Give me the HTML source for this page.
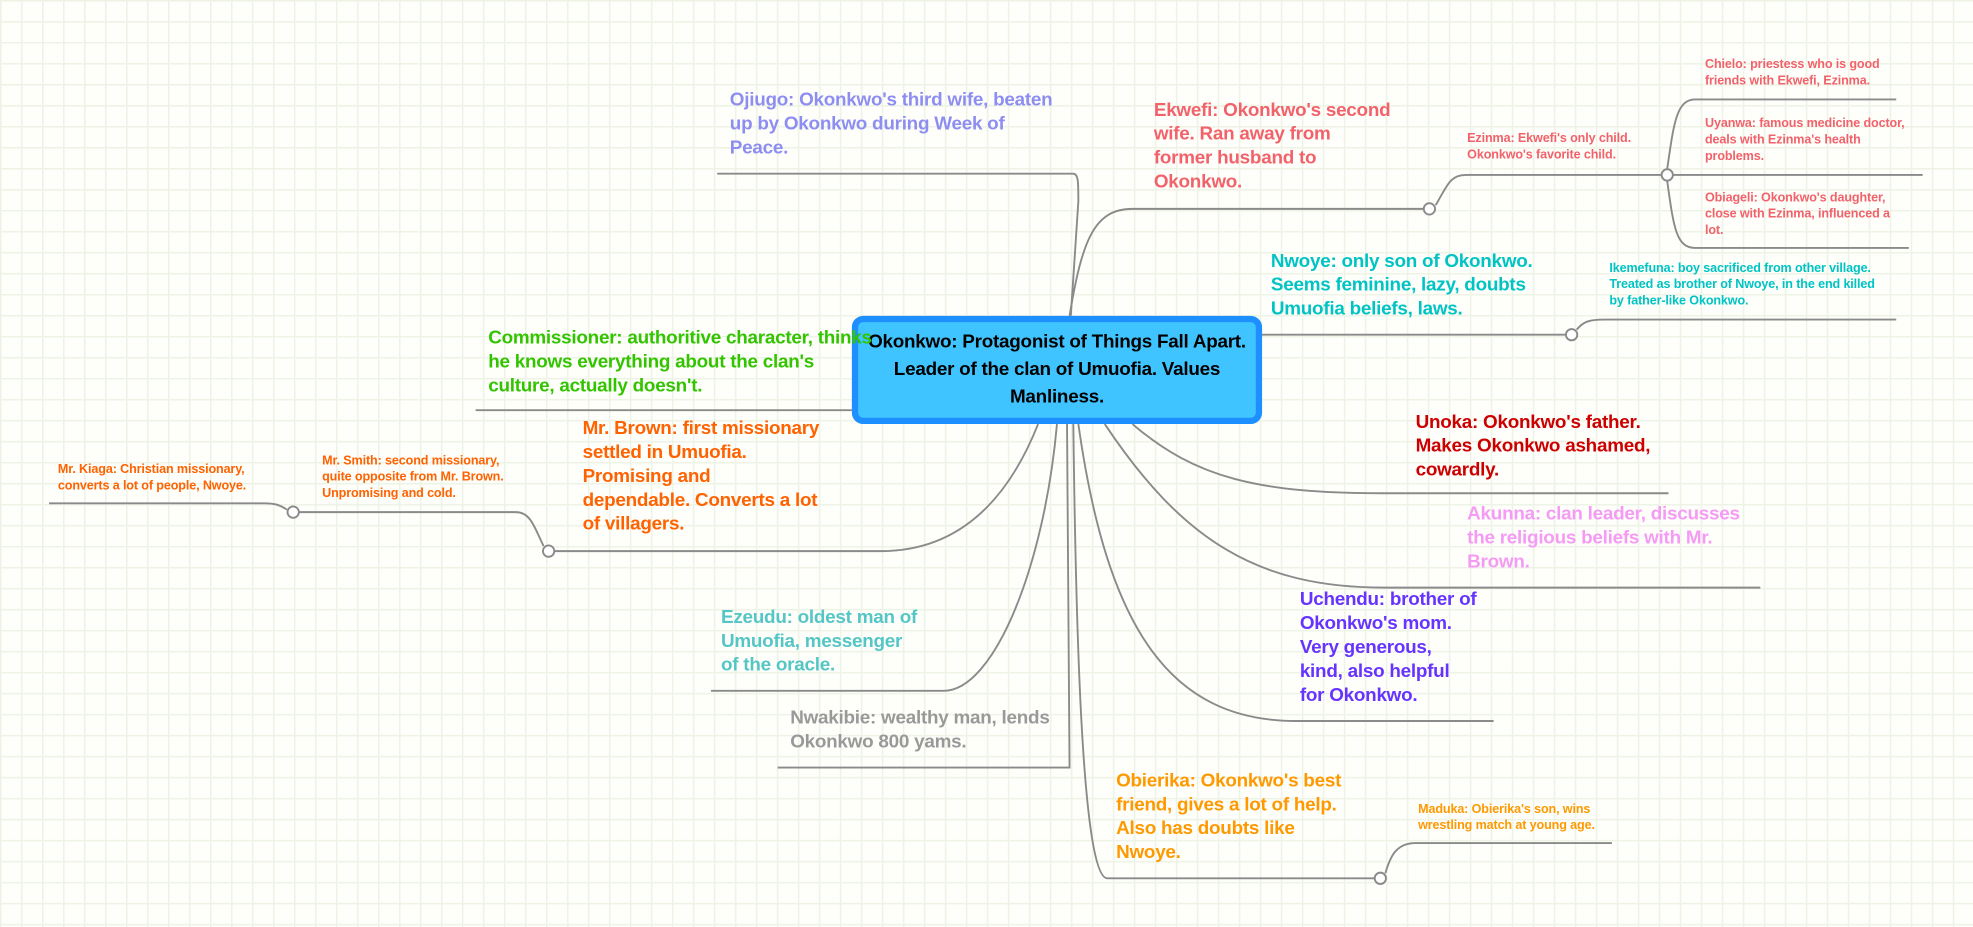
<!DOCTYPE html>
<html><head><meta charset="utf-8"><style>
html,body{margin:0;padding:0;width:1973px;height:927px;overflow:hidden;background:#fff;}
#w{position:absolute;left:0;top:0;width:1568px;height:737px;transform:scale(1.25829);transform-origin:0 0;
background-color:#fefefb;
background-image:linear-gradient(to right,#edf3e5 1px,transparent 1px),linear-gradient(to bottom,#edf3e5 1px,transparent 1px);
background-size:16.7px 16.7px;}
.t{position:absolute;font-family:"Liberation Sans",sans-serif;font-weight:bold;font-size:15px;line-height:19px;letter-spacing:-0.2px;white-space:nowrap;}
.s{position:absolute;font-family:"Liberation Sans",sans-serif;font-weight:bold;font-size:10px;line-height:13px;letter-spacing:-0.1px;white-space:nowrap;}
svg{position:absolute;left:0;top:0;}
#c{position:absolute;left:677px;top:251px;width:316px;height:76px;border:5px solid #1e8fff;border-radius:9px;background:#40c4ff;
display:flex;align-items:center;justify-content:center;text-align:center;font-family:"Liberation Sans",sans-serif;font-weight:bold;font-size:15px;line-height:22px;letter-spacing:-0.2px;color:#000;}
</style></head><body><div id="w">
<svg width="1568" height="737" fill="none" stroke="#8a8a8a" stroke-width="1.5">
<path d="M570,138 H853 C857,138 857,145 857,160 L851,251"/>
<path d="M850,251 C860,190 870,166 900,166 H1131"/>
<path d="M1141,163 C1150,148 1152,139 1165,139 H1320"/>
<path d="M1325,134 C1330,100 1332,79 1347,79 H1507"/>
<path d="M1325,144 C1330,180 1332,197 1347,197 H1517"/>
<path d="M1330,139 H1528"/>
<path d="M1003,266 H1244"/>
<path d="M1253,262 C1258,256 1262,254 1275,254 H1507"/>
<path d="M378,326 H677"/>
<path d="M825,337 C800,400 760,438 700,438 H441"/>
<path d="M432,434 C425,420 422,407 410,407 H238"/>
<path d="M228,405 C222,401 218,400 210,400 H39"/>
<path d="M900,337 C950,380 1000,392 1100,392 H1326"/>
<path d="M878,337 C940,430 1000,467 1100,467 H1399"/>
<path d="M857,337 C880,500 930,573 1030,573 H1187"/>
<path d="M840,337 C830,450 790,549 750,549 H565"/>
<path d="M848,337 L850,610 H618"/>
<path d="M853,337 C855,500 860,698 880,698 H1092"/>
<path d="M1101,694 C1105,680 1110,670 1125,670 H1281"/>
<g fill="#fff">
<circle cx="1136" cy="166" r="4.5"/><circle cx="1325" cy="139" r="4.5"/><circle cx="1249" cy="266" r="4.5"/>
<circle cx="436" cy="438" r="4.5"/><circle cx="233" cy="407" r="4.5"/><circle cx="1097" cy="698" r="4.5"/>
</g></svg>

<div class="t" style="left:580px;top:70px;color:#8d8df2">Ojiugo: Okonkwo's third wife, beaten<br>up by Okonkwo during Week of<br>Peace.</div>
<div class="t" style="left:917px;top:78px;color:#f2626a">Ekwefi: Okonkwo's second<br>wife. Ran away from<br>former husband to<br>Okonkwo.</div>
<div class="s" style="left:1166px;top:104px;color:#f2626a">Ezinma: Ekwefi's only child.<br>Okonkwo's favorite child.</div>
<div class="s" style="left:1355px;top:45px;color:#f2626a">Chielo: priestess who is good<br>friends with Ekwefi, Ezinma.</div>
<div class="s" style="left:1355px;top:92px;color:#f2626a">Uyanwa: famous medicine doctor,<br>deals with Ezinma's health<br>problems.</div>
<div class="s" style="left:1355px;top:151px;color:#f2626a">Obiageli: Okonkwo's daughter,<br>close with Ezinma, influenced a<br>lot.</div>
<div class="t" style="left:1010px;top:198px;color:#00c4c4">Nwoye: only son of Okonkwo.<br>Seems feminine, lazy, doubts<br>Umuofia beliefs, laws.</div>
<div class="s" style="left:1279px;top:207px;color:#00c4c4">Ikemefuna: boy sacrificed from other village.<br>Treated as brother of Nwoye, in the end killed<br>by father-like Okonkwo.</div>
<div class="t" style="left:463px;top:331px;color:#ff6200">Mr. Brown: first missionary<br>settled in Umuofia.<br>Promising and<br>dependable. Converts a lot<br>of villagers.</div>
<div class="s" style="left:256px;top:360px;color:#ff6200">Mr. Smith: second missionary,<br>quite opposite from Mr. Brown.<br>Unpromising and cold.</div>
<div class="s" style="left:46px;top:367px;color:#ff6200">Mr. Kiaga: Christian missionary,<br>converts a lot of people, Nwoye.</div>
<div class="t" style="left:1125px;top:326px;color:#cc0000">Unoka: Okonkwo's father.<br>Makes Okonkwo ashamed,<br>cowardly.</div>
<div class="t" style="left:1166px;top:399px;color:#f59af5">Akunna: clan leader, discusses<br>the religious beliefs with Mr.<br>Brown.</div>
<div class="t" style="left:1033px;top:467px;color:#6633ff">Uchendu: brother of<br>Okonkwo's mom.<br>Very generous,<br>kind, also helpful<br>for Okonkwo.</div>
<div class="t" style="left:573px;top:481px;color:#55c6c6">Ezeudu: oldest man of<br>Umuofia, messenger<br>of the oracle.</div>
<div class="t" style="left:628px;top:561px;color:#999">Nwakibie: wealthy man, lends<br>Okonkwo 800 yams.</div>
<div class="t" style="left:887px;top:611px;color:#ff9900">Obierika: Okonkwo's best<br>friend, gives a lot of help.<br>Also has doubts like<br>Nwoye.</div>
<div class="s" style="left:1127px;top:637px;color:#ff9900">Maduka: Obierika's son, wins<br>wrestling match at young age.</div>

<div id="c">Okonkwo: Protagonist of Things Fall Apart.<br>Leader of the clan of Umuofia. Values<br>Manliness.</div>
<div class="t" style="left:388px;top:259px;color:#33c400">Commissioner: authoritive character, thinks<br>he knows everything about the clan's<br>culture, actually doesn't.</div>
</div></body></html>
